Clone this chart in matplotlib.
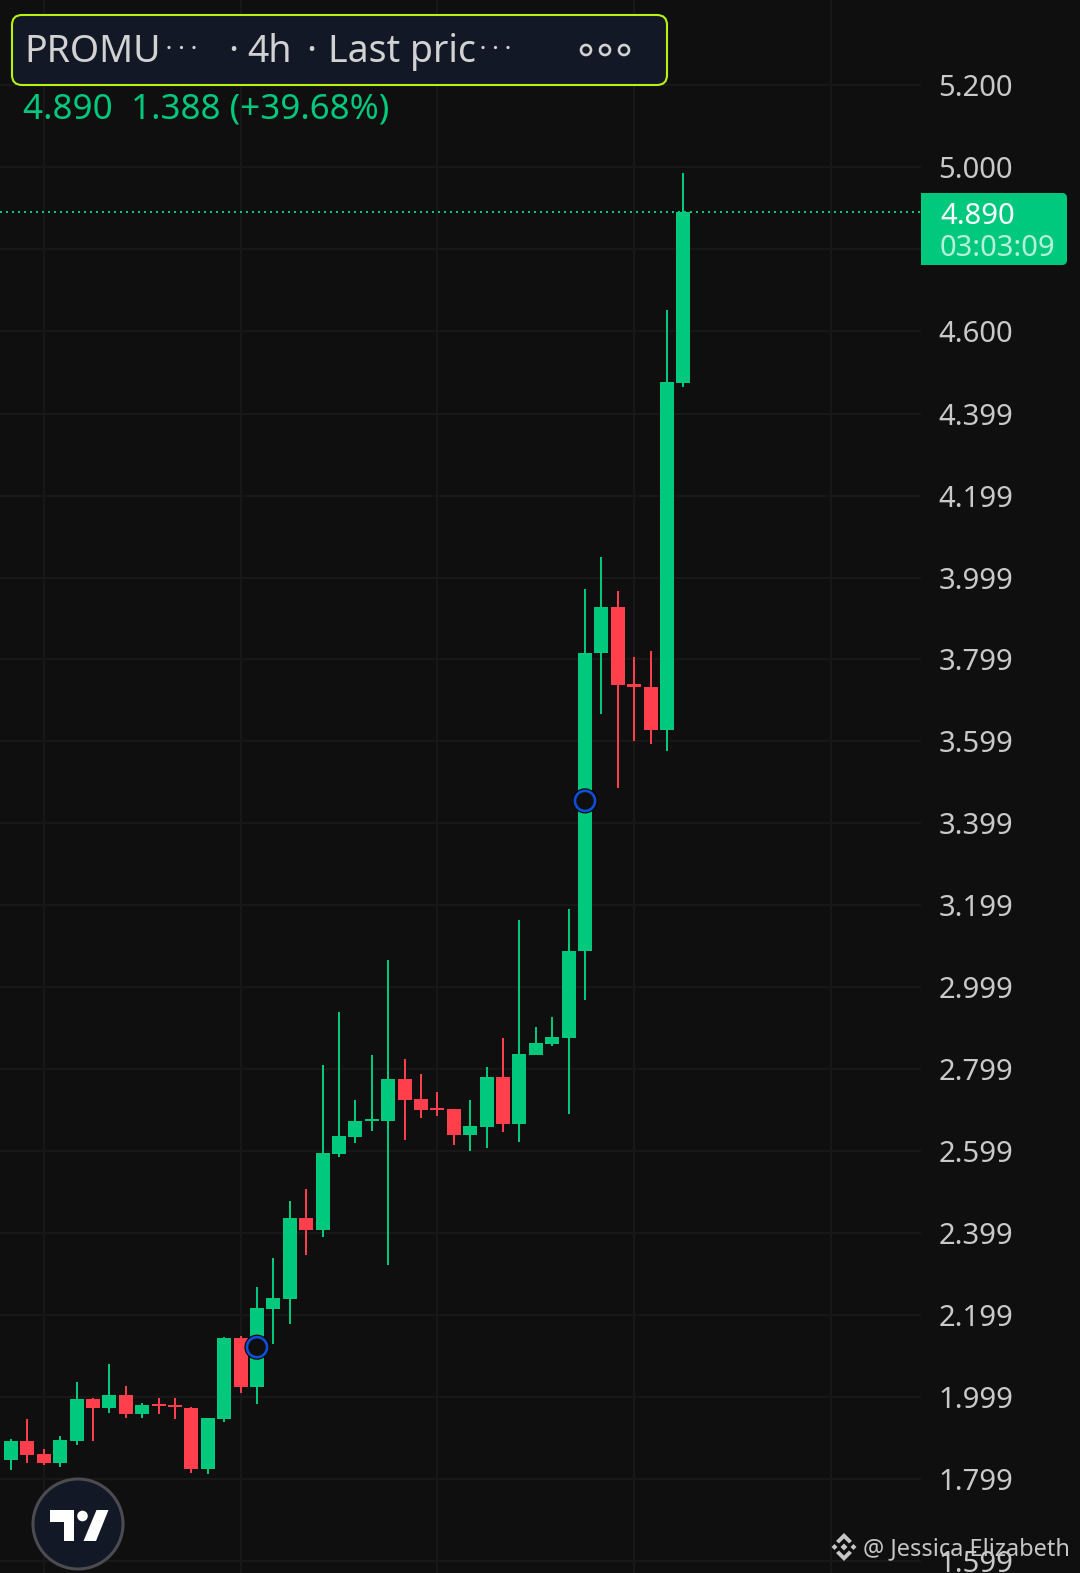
import matplotlib
matplotlib.use('Agg')
import matplotlib.pyplot as plt
from matplotlib.patches import FancyBboxPatch, Rectangle, Circle, Polygon
import matplotlib.patheffects as pe

BG = '#0f0f0f'
GREEN = '#00c87c'
RED = '#ff3f4c'
GRID = '#191919'
LABEL = '#c9c9c9'

opens = [1.846, 1.892, 1.860, 1.838, 1.892, 1.994, 1.972, 2.004, 1.958, 1.982, 1.980, 1.972, 1.824, 1.946,
         2.143, 2.024, 2.214, 2.238, 2.436, 2.407, 2.592, 2.633, 2.673, 2.673, 2.775, 2.726, 2.704, 2.702,
         2.638, 2.658, 2.780, 2.665, 2.834, 2.860, 2.875, 3.087, 3.814, 3.926, 3.738, 3.733, 3.626, 4.473]
highs = [1.897, 1.946, 1.872, 1.904, 2.036, 1.997, 2.080, 2.026, 1.985, 1.997, 1.997, 1.975, 1.948, 2.146,
         2.148, 2.268, 2.338, 2.477, 2.507, 2.809, 2.938, 2.724, 2.833, 3.065, 2.824, 2.787, 2.743, 2.702,
         2.724, 2.804, 2.875, 3.163, 2.902, 2.926, 3.190, 3.970, 4.048, 3.965, 3.804, 3.819, 4.653, 4.985]
lows = [1.821, 1.838, 1.833, 1.829, 1.882, 1.892, 1.960, 1.948, 1.948, 1.958, 1.946, 1.814, 1.811, 1.938,
        2.009, 1.982, 2.129, 2.177, 2.346, 2.390, 2.585, 2.619, 2.648, 2.321, 2.626, 2.680, 2.685, 2.614,
        2.599, 2.607, 2.646, 2.621, 2.834, 2.855, 2.690, 2.968, 3.665, 3.485, 3.599, 3.594, 3.575, 4.463]
closes = [1.892, 1.858, 1.838, 1.894, 1.994, 1.972, 2.004, 1.958, 1.980, 1.977, 1.975, 1.824, 1.948, 2.143,
          2.024, 2.216, 2.241, 2.436, 2.407, 2.594, 2.636, 2.673, 2.677, 2.775, 2.724, 2.699, 2.699, 2.638,
          2.660, 2.780, 2.665, 2.836, 2.863, 2.877, 3.087, 3.816, 3.926, 3.736, 3.731, 3.626, 4.475, 4.890]

tick_prices = [5.200, 5.000, 4.800, 4.600, 4.399, 4.199, 3.999, 3.799, 3.599, 3.399, 3.199,
               2.999, 2.799, 2.599, 2.399, 2.199, 1.999, 1.799, 1.599]
# 4.800 sits under the last price tag, so no label there
tick_labels = ['5.200', '5.000', '', '4.600', '4.399', '4.199', '3.999', '3.799', '3.599', '3.399', '3.199',
               '2.999', '2.799', '2.599', '2.399', '2.199', '1.999', '1.799', '1.599']
time_grid = [2, 14, 26, 38, 50]

last_price = 4.890
marker_bars = [15, 35]
marker_prices = [2.121, 3.454]

plt.rcParams['font.family'] = ['Noto Sans', 'DejaVu Sans']

fig = plt.figure(figsize=(10.8, 15.73), dpi=100, facecolor=BG)
ax = fig.add_axes([0, 0, 921 / 1080, 1], facecolor=BG)
ax.set_xlim(-0.6707, 55.488)
ax.set_ylim(1.5700, 5.4082)
for s in ax.spines.values():
    s.set_visible(False)
ax.yaxis.tick_right()
ax.set_yticks(tick_prices)
ax.set_yticklabels(tick_labels)
ax.set_xticks(time_grid)
ax.set_xticklabels([])
ax.tick_params(axis='both', length=0)
ax.tick_params(axis='y', pad=12.5, labelsize=21, labelcolor=LABEL)
ax.grid(True, color=GRID, lw=1.4)
ax.set_axisbelow(True)

for i in range(len(opens)):
    c = GREEN if closes[i] >= opens[i] else RED
    ax.vlines(i, lows[i], highs[i], color=c, lw=1.44, zorder=3)
    ax.bar(i, abs(closes[i] - opens[i]), bottom=min(opens[i], closes[i]), width=0.855, color=c, lw=0, zorder=4)

ax.axhline(last_price, color=GREEN, lw=1.44, ls=(0, (1, 2)), zorder=2)

ax.scatter(marker_bars, marker_prices, s=210, facecolor=BG, edgecolor='#0c50d8', lw=1.9, zorder=5,
           path_effects=[pe.withStroke(linewidth=3.6, foreground='#050505')])

# app chrome on top, in plain pixels
ui = fig.add_axes([0, 0, 1, 1])
ui.set_xlim(0, 1080)
ui.set_ylim(1573, 0)
ui.axis('off')

ui.add_patch(FancyBboxPatch((12, 15), 655, 70, boxstyle='round,pad=0,rounding_size=10',
                            fc='#131826', ec='#b9f20f', lw=1.5))
head_color = '#d2d2d2'
for x, txt in [(24, 'PROMU'), (228, '·'), (247, '4h'), (306, '·'), (328, 'Last pric')]:
    ui.text(x, 62, txt, fontsize=27, color=head_color, ha='left', va='baseline')
for x0 in (169, 483):
    for k in range(3):
        ui.add_patch(Circle((x0 + k * 12.5, 47.5), 1.6, fc=head_color, ec='none'))
for x in (586, 605, 624):
    ui.add_patch(Circle((x, 50), 5, fc='none', ec=head_color, lw=1.9))

ui.text(23, 118, '4.890  1.388 (+39.68%)', fontsize=25.2, color=GREEN, ha='left', va='baseline')

# last price tag, square on the left, rounded on the right
ui.add_patch(FancyBboxPatch((921, 193), 146, 72, boxstyle='round,pad=0,rounding_size=5', fc=GREEN, ec='none'))
ui.add_patch(Rectangle((921, 193), 20, 72, fc=GREEN, ec='none'))
ui.text(940, 224, '4.890', fontsize=21, color='white', ha='left', va='baseline')
ui.text(940, 255.5, '03:03:09', fontsize=21, color='#b5f0da', ha='left', va='baseline')

# tradingview badge
ui.add_patch(Circle((78, 1524), 45, fc='#131826', ec='#4b4b50', lw=2.2))
ui.add_patch(Polygon([(50, 1510), (74, 1510), (74, 1541), (63.5, 1541), (63.5, 1521.5), (50, 1521.5)], fc='white', ec='none'))
ui.add_patch(Circle((82.5, 1516), 5.3, fc='white', ec='none'))
ui.add_patch(Polygon([(96.5, 1510), (108.5, 1510), (96, 1541), (83.5, 1541)], fc='white', ec='none'))

# binance feed watermark
wm = '#c6c6c6'
cx, cy = 844, 1547
ui.add_patch(Polygon([(cx, cy - 3.5), (cx + 3.5, cy), (cx, cy + 3.5), (cx - 3.5, cy)], fc=wm, ec='none'))
for dx in (-9.5, 9.5):
    ui.add_patch(Polygon([(cx + dx, cy - 3), (cx + dx + 3, cy), (cx + dx, cy + 3), (cx + dx - 3, cy)], fc=wm, ec='none'))
for sgn in (-1, 1):
    ui.add_patch(Polygon([(cx, cy + sgn * 14), (cx + 8, cy + sgn * 6), (cx + 5, cy + sgn * 3.5), (cx, cy + sgn * 8.5),
                          (cx - 5, cy + sgn * 3.5), (cx - 8, cy + sgn * 6)], fc=wm, ec='none'))
ui.text(863, 1555, '@ Jessica Elizabeth', fontsize=17, color=wm, ha='left', va='baseline')

fig.savefig('out.png', dpi=100, facecolor=BG)
